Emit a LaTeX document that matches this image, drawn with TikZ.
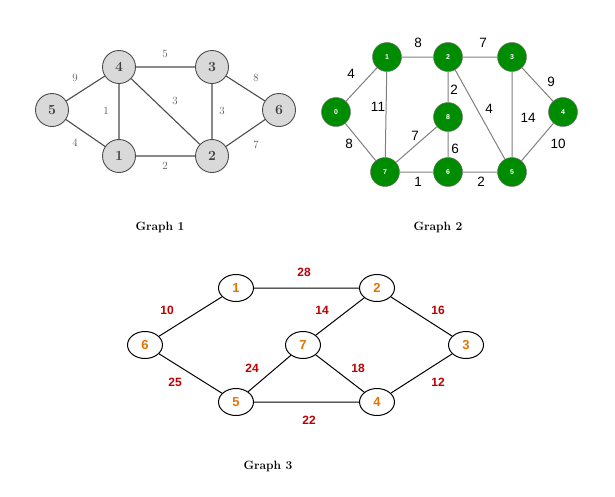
\documentclass[tikz,border=0pt]{standalone}
\usepackage{fontspec}
\setsansfont{Liberation Sans}
\usetikzlibrary{shapes.geometric}
\begin{document}
\begin{tikzpicture}[x=1pt,y=-1pt,
 ga/.style={circle,draw=black!70,fill=black!15,line width=0.9pt,minimum size=33pt,inner sep=0pt,font=\bfseries\fontsize{14}{14}\selectfont,text=black!75},
 gae/.style={line width=1.1pt,draw=black!70},
 gal/.style={font=\fontsize{11}{11}\selectfont,text=black!65},
 gb/.style={circle,draw=black!60,fill=green!55!black,minimum size=29pt,inner sep=0pt,font=\sffamily\bfseries\fontsize{7}{7}\selectfont,text=white},
 gbe/.style={line width=1pt,draw=black!50},
 gbl/.style={font=\sffamily\fontsize{13.5}{13.5}\selectfont},
 gc/.style={ellipse,draw=black,line width=1pt,fill=white,minimum width=35pt,minimum height=27pt,inner sep=0pt,font=\sffamily\bfseries\fontsize{13}{13}\selectfont,text=orange!90!black},
 gce/.style={line width=1pt,draw=black},
 gcl/.style={font=\sffamily\bfseries\fontsize{12}{12}\selectfont,text=red!75!black},
 ttl/.style={font=\bfseries\fontsize{12}{12}\selectfont}]
\useasboundingbox (0,0) rectangle (615,496);
% Graph 1
\node[ga] (a5) at (52,110) {5};
\node[ga] (a4) at (119,67) {4};
\node[ga] (a3) at (212,67) {3};
\node[ga] (a6) at (279,110) {6};
\node[ga] (a1) at (119,156) {1};
\node[ga] (a2) at (212,156) {2};
\draw[gae] (a5)--(a4) (a5)--(a1) (a4)--(a1) (a4)--(a3) (a4)--(a2) (a3)--(a2) (a1)--(a2) (a3)--(a6) (a2)--(a6);
\node[gal] at (75,78) {9};
\node[gal] at (75,143) {4};
\node[gal] at (106,111) {1};
\node[gal] at (165,54) {5};
\node[gal] at (175,101) {3};
\node[gal] at (222,111) {3};
\node[gal] at (165,166) {2};
\node[gal] at (256,78) {8};
\node[gal] at (256,145) {7};
\node[ttl] (t1) at (160,227) {Graph 1};
% Graph 2
\node[gb] (b0) at (336,112) {0};
\node[gb] (b1) at (387,57) {1};
\node[gb] (b2) at (448,57) {2};
\node[gb] (b3) at (512,57) {3};
\node[gb] (b4) at (563,112) {4};
\node[gb] (b8) at (448,117) {8};
\node[gb] (b7) at (385,172) {7};
\node[gb] (b6) at (448,172) {6};
\node[gb] (b5) at (512,172) {5};
\draw[gbe] (b0)--(b1) (b0)--(b7) (b1)--(b2) (b1)--(b7) (b2)--(b3) (b2)--(b8) (b2)--(b5) (b3)--(b4) (b3)--(b5) (b4)--(b5) (b8)--(b7) (b8)--(b6) (b7)--(b6) (b6)--(b5);
\node[gbl] at (351,74) {4};
\node[gbl] at (349,144) {8};
\node[gbl] at (418,43) {8};
\node[gbl] at (483,43) {7};
\node[gbl] at (378,107) {11};
\node[gbl] at (454,90) {2};
\node[gbl] at (489,109) {4};
\node[gbl] at (528,118) {14};
\node[gbl] at (551,82) {9};
\node[gbl] at (558,144) {10};
\node[gbl] at (415,136) {7};
\node[gbl] at (455,149) {6};
\node[gbl] at (418,182) {1};
\node[gbl] at (481,182) {2};
\node[ttl] (t2) at (438,227) {Graph 2};
% Graph 3
\node[gc] (c1) at (236,288) {1};
\node[gc] (c2) at (377,288) {2};
\node[gc] (c6) at (145,345) {6};
\node[gc] (c7) at (303,345) {7};
\node[gc] (c3) at (466,345) {3};
\node[gc] (c5) at (236,402) {5};
\node[gc] (c4) at (377,402) {4};
\draw[gce] (c1)--(c2) (c1)--(c6) (c6)--(c5) (c2)--(c7) (c2)--(c3) (c7)--(c5) (c7)--(c4) (c5)--(c4) (c4)--(c3);
\node[gcl] at (304,272) {28};
\node[gcl] at (167,310) {10};
\node[gcl] at (322,310) {14};
\node[gcl] at (438,310) {16};
\node[gcl] at (252,368) {24};
\node[gcl] at (358,368) {18};
\node[gcl] at (175,382) {25};
\node[gcl] at (438,382) {12};
\node[gcl] at (309,420) {22};
\node[ttl] (t3) at (268,466) {Graph 3};
\end{tikzpicture}
\end{document}
